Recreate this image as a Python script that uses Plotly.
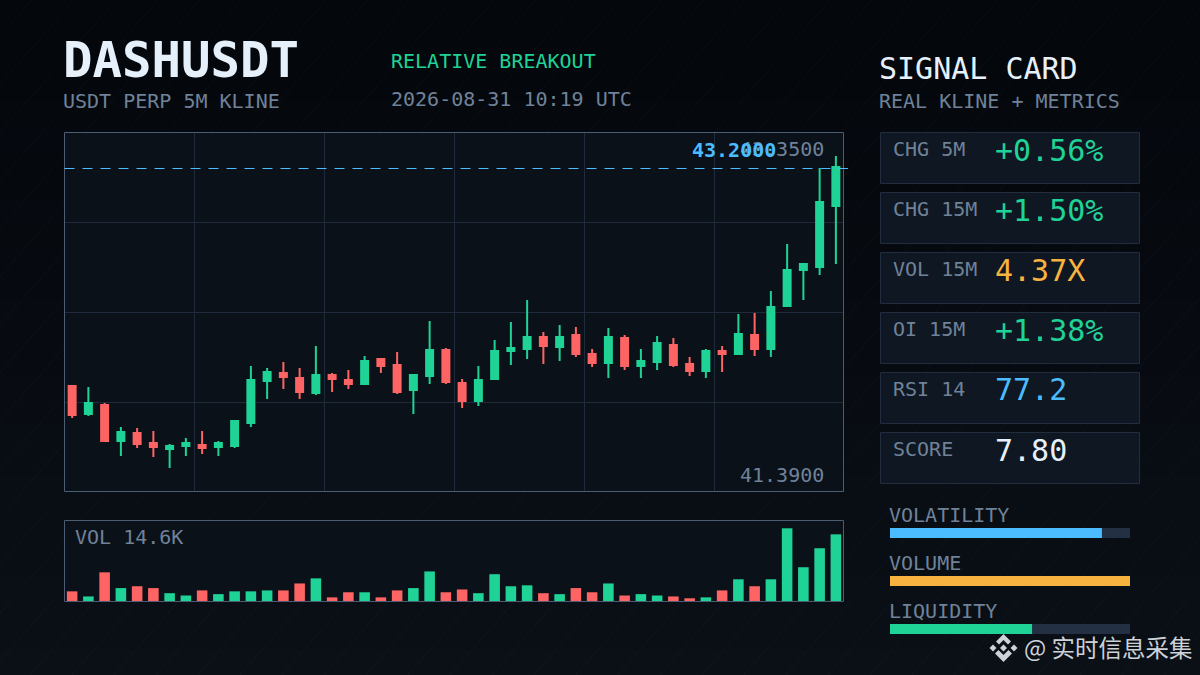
import plotly.graph_objects as go

W, H = 1200, 675
MONO = "DejaVu Sans Mono"
GREEN = "#1fd396"
RED = "#ff6464"
BLUE = "#4bbcff"
ORANGE = "#f7b23f"
GREY = "#6f8299"
WHITE = "#e6f0fa"
PANEL = "#0b1119"
CARD = "#0f1722"

# --- candles, oldest first ---
opens = [41.895, 41.727, 41.781, 41.565, 41.613, 41.553, 41.517, 41.535, 41.541, 41.529, 41.535, 41.673,
         41.925, 41.973, 41.943, 41.853, 41.961, 41.931, 41.907, 42.057, 42.021, 41.871, 41.955, 42.111,
         41.913, 41.805, 41.937, 42.105, 42.117, 42.189, 42.129, 42.201, 42.087, 42.033, 42.183, 42.015,
         42.039, 42.141, 42.027, 41.985, 42.105, 42.087, 42.201, 42.117, 42.375, 42.591, 42.609, 42.975]
highs = [41.901, 41.889, 41.793, 41.649, 41.643, 41.625, 41.547, 41.583, 41.625, 41.565, 41.691, 42.015,
         42.003, 42.039, 42.003, 42.135, 41.973, 41.991, 42.075, 42.063, 42.099, 41.967, 42.285, 42.123,
         41.937, 42.015, 42.171, 42.279, 42.411, 42.219, 42.261, 42.249, 42.117, 42.243, 42.201, 42.117,
         42.195, 42.183, 42.069, 42.117, 42.135, 42.327, 42.333, 42.465, 42.747, 42.633, 43.203, 43.275]
lows = [41.703, 41.715, 41.565, 41.475, 41.523, 41.469, 41.403, 41.475, 41.487, 41.475, 41.523, 41.649,
        41.817, 41.877, 41.817, 41.841, 41.859, 41.877, 41.907, 41.973, 41.847, 41.727, 41.907, 41.907,
        41.763, 41.775, 41.931, 42.021, 42.057, 42.027, 42.045, 42.069, 42.009, 41.943, 41.991, 41.943,
        41.991, 42.009, 41.955, 41.943, 41.979, 42.087, 42.075, 42.069, 42.369, 42.411, 42.561, 42.627]
closes = [41.721, 41.793, 41.565, 41.619, 41.547, 41.529, 41.535, 41.553, 41.523, 41.553, 41.685, 41.931,
          41.979, 41.949, 41.859, 41.961, 41.937, 41.907, 42.045, 42.015, 41.859, 41.961, 42.111, 41.919,
          41.805, 41.931, 42.105, 42.123, 42.189, 42.135, 42.189, 42.087, 42.033, 42.189, 42.015, 42.045,
          42.153, 42.021, 41.985, 42.105, 42.087, 42.207, 42.117, 42.369, 42.591, 42.627, 42.999, 43.209]
last_price = 43.2

# --- volume in thousands ---
volumes = [2.3, 1.2, 6.4, 3.0, 3.4, 3.0, 1.9, 1.4, 2.5, 1.7, 2.3, 2.3,
           2.5, 2.5, 4.0, 5.1, 1.0, 2.1, 2.1, 1.0, 2.5, 3.0, 6.6, 2.1,
           2.7, 1.9, 6.0, 3.4, 3.6, 1.9, 1.7, 3.0, 2.1, 4.0, 1.4, 1.7,
           1.4, 1.2, 0.8, 1.0, 2.5, 4.9, 3.4, 4.9, 15.9, 7.5, 11.6, 14.6]

# --- right column ---
card_labels = ["CHG 5M", "CHG 15M", "VOL 15M", "OI 15M", "RSI 14", "SCORE"]
card_values = ["+0.56%", "+1.50%", "4.37X", "+1.38%", "77.2", "7.80"]
card_colors = [GREEN, GREEN, ORANGE, GREEN, BLUE, WHITE]
meter_labels = ["VOLATILITY", "VOLUME", "LIQUIDITY"]
meter_values = [0.883, 1.0, 0.592]
meter_colors = [BLUE, ORANGE, GREEN]

index = list(range(len(closes)))
vol_colors = [GREEN if c >= o else RED for o, c in zip(opens, closes)]


def fx(px):
    return px / W


def fy(px):
    return 1 - px / H


def rect(x0, y0, x1, y1, fill, line=None):
    return dict(type="rect", xref="paper", yref="paper", x0=fx(x0), x1=fx(x1), y0=fy(y0), y1=fy(y1),
                fillcolor=fill, line=dict(color=line or fill, width=1 if line else 0), layer="below")


def label(x, y, text, size=20, color=GREY, anchor="left", family=MONO, weight=None):
    return dict(x=fx(x), y=fy(y), xref="paper", yref="paper", text=text, showarrow=False, xanchor=anchor,
                yanchor="middle", borderpad=0, font=dict(family=family, size=size, color=color, weight=weight))


fig = go.Figure()
fig.add_trace(go.Candlestick(
    x=index, open=opens, high=highs, low=lows, close=closes, whiskerwidth=0, hoverinfo="skip",
    increasing=dict(line=dict(color=GREEN, width=2), fillcolor=GREEN),
    decreasing=dict(line=dict(color=RED, width=2), fillcolor=RED),
    xaxis="x", yaxis="y",
))
fig.add_trace(go.Bar(x=index, y=volumes, marker=dict(color=vol_colors, line_width=0), width=0.65,
                     xaxis="x2", yaxis="y2", hoverinfo="skip"))
# meter tracks first, fills on top
fig.add_trace(go.Bar(y=meter_labels, x=[1.0] * 3, orientation="h", marker=dict(color="#233044", line_width=0),
                     width=0.208, xaxis="x3", yaxis="y3", hoverinfo="skip"))
fig.add_trace(go.Bar(y=meter_labels, x=meter_values, orientation="h", marker=dict(color=meter_colors, line_width=0),
                     width=0.208, xaxis="x3", yaxis="y3", hoverinfo="skip"))

# background: vertical shading, then faint diagonals
shapes = []
bands = 27
for b in range(bands):
    t = b / (bands - 1)
    r, g, bl = int(4 + 7 * t), int(7 + 9 * t), int(12 + 11 * t)
    shapes.append(rect(0, b * H / bands, W, (b + 1) * H / bands + 1, f"rgb({r},{g},{bl})"))
for start in range(-600, 1210, 42):
    shapes.append(dict(type="line", xref="paper", yref="paper", x0=fx(start), y0=fy(H), x1=fx(start + 590), y1=fy(0),
                       line=dict(color="rgba(120,150,190,0.055)", width=1), layer="below"))

shapes.append(rect(64.5, 132.5, 843.5, 491.5, PANEL))
shapes.append(rect(64.5, 520.5, 843.5, 601.5, PANEL))
for i in range(len(card_labels)):
    shapes.append(rect(880.5, 132.5 + 60 * i, 1139.5, 183.5 + 60 * i, CARD, "#212d3f"))

# frames sit above the grid
for y0, y1 in [(132.5, 491.5), (520.5, 601.5)]:
    shapes.append(dict(type="rect", xref="paper", yref="paper", x0=fx(64.5), x1=fx(843.5), y0=fy(y0), y1=fy(y1),
                       line=dict(color="#4c5c72", width=1), layer="above"))
shapes.append(dict(type="line", xref="paper", yref="y", x0=fx(64.5), x1=fx(848), y0=last_price, y1=last_price,
                   line=dict(color=BLUE, width=1, dash="10px,8px"), layer="above"))

# watermark logo
LOGO = "rgb(205,210,216)"


def poly(points):
    path = "M " + " L ".join(f"{fx(x):.5f},{fy(y):.5f}" for x, y in points) + " Z"
    return dict(type="path", xref="paper", yref="paper", path=path, fillcolor=LOGO, line_width=0, layer="above")


cx, cy = 1003.5, 648
shapes.append(poly([(cx - 14, cy), (cx - 10.5, cy - 3.5), (cx - 7, cy), (cx - 10.5, cy + 3.5)]))
shapes.append(poly([(cx + 14, cy), (cx + 10.5, cy - 3.5), (cx + 7, cy), (cx + 10.5, cy + 3.5)]))
shapes.append(poly([(cx, cy - 14), (cx + 7.5, cy - 6.5), (cx + 4.5, cy - 3.5), (cx, cy - 8), (cx - 4.5, cy - 3.5), (cx - 7.5, cy - 6.5)]))
shapes.append(poly([(cx, cy + 14), (cx + 8.5, cy + 5.5), (cx + 5, cy + 2), (cx, cy + 7), (cx - 5, cy + 2), (cx - 8.5, cy + 5.5)]))
shapes.append(poly([(cx, cy - 3.5), (cx + 3.5, cy), (cx, cy + 3.5), (cx - 3.5, cy)]))

notes = [
    label(62, 60, "DASHUSDT", size=49, color=WHITE, weight="bold"),
    label(62, 101, "USDT PERP 5M KLINE"),
    label(390, 61, "RELATIVE BREAKOUT", color=GREEN),
    label(390, 99, "2026-08-31 10:19 UTC"),
    label(878, 68, "SIGNAL CARD", size=30, color=WHITE),
    label(878, 101, "REAL KLINE + METRICS"),
    label(825, 149, "43.3500", anchor="right"),
    label(777, 150, f"{last_price:.4f}", color=BLUE, anchor="right", weight="bold"),
    label(825, 475, "41.3900", anchor="right"),
    label(74, 537, "VOL 14.6K"),
    label(1023, 647, "@ 实时信息采集", size=23.5, color=LOGO, family="Noto Sans CJK SC"),
]
for i in range(len(card_labels)):
    notes.append(label(892, 149 + 60 * i, card_labels[i]))
    notes.append(label(994, 150 + 60 * i, card_values[i], size=30, color=card_colors[i]))
for i in range(len(meter_labels)):
    notes.append(label(888, 515 + 48 * i, meter_labels[i]))

hidden = dict(showgrid=False, zeroline=False, showticklabels=False, ticks="", showline=False)
fig.update_layout(
    width=W, height=H, margin=dict(l=0, r=0, t=0, b=0, pad=0),
    paper_bgcolor="#070b12", plot_bgcolor="rgba(0,0,0,0)", showlegend=False,
    barmode="overlay", boxgap=0.57, boxgroupgap=0, shapes=shapes, annotations=notes,
    xaxis=dict(domain=[fx(64), fx(844)], range=[-0.5, 47.5], anchor="y", rangeslider=dict(visible=False),
               tickvals=[7.5, 15.5, 23.5, 31.5, 39.5], showgrid=True, gridcolor="#1f2a3b", gridwidth=1,
               zeroline=False, showticklabels=False, ticks="", showline=False),
    yaxis=dict(domain=[fy(492), fy(132)], range=[41.259, 43.419], anchor="x",
               tickvals=[41.799, 42.339, 42.879], showgrid=True, gridcolor="#1f2a3b", gridwidth=1,
               zeroline=False, showticklabels=False, ticks="", showline=False),
    xaxis2=dict(domain=[fx(64), fx(844)], range=[-0.5, 47.5], anchor="y2", **hidden),
    yaxis2=dict(domain=[fy(602), fy(520)], range=[0, 17.69], anchor="x2", **hidden),
    xaxis3=dict(domain=[fx(890), fx(1130)], range=[0, 1], anchor="y3", **hidden),
    yaxis3=dict(domain=[fy(653), fy(509)], range=[2.5, -0.5], anchor="x3", type="category",
                categoryorder="array", categoryarray=meter_labels, **hidden),
)

fig.write_html("out.html", config=dict(displayModeBar=False), post_script="document.body.style.margin='0';")
